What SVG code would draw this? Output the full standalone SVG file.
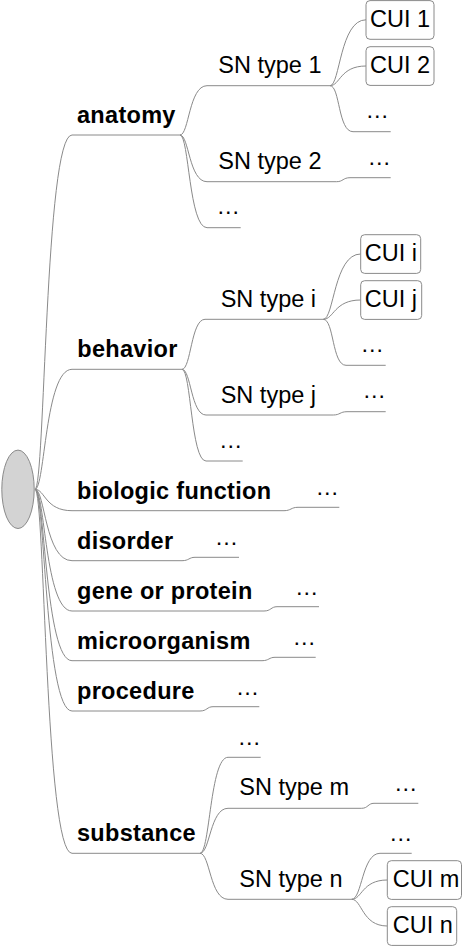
<svg xmlns="http://www.w3.org/2000/svg" width="463" height="946" viewBox="0 0 463 946">
<style>
text{font-family:"Liberation Sans",Arial,sans-serif;font-size:23.5px;fill:#000}
.b{font-weight:bold;letter-spacing:0.3px}
.ul,.c{fill:none;stroke:#8a8a8a;stroke-width:1}
.box{fill:#fff;stroke:#8a8a8a;stroke-width:1}
.root{fill:#d3d3d3;stroke:#8a8a8a;stroke-width:1}
</style>
<rect width="463" height="946" fill="#fff"/>
<g id="connectors" class="c">
<path d="M35,489.3 C45,489.3 45,135 72,135"/>
<path d="M35,489.3 C45,489.3 45,369.3 72,369.3"/>
<path d="M35,489.3 C45,489.3 45,510.7 72,510.7"/>
<path d="M35,489.3 C45,489.3 45,560.7 72,560.7"/>
<path d="M35,489.3 C45,489.3 45,611 72,611"/>
<path d="M35,489.3 C45,489.3 45,660.7 72,660.7"/>
<path d="M35,489.3 C45,489.3 45,711 72,711"/>
<path d="M35,489.3 C45,489.3 45,853.3 72,853.3"/>
<path d="M180,135 C189,135 189,85.7 207,85.7"/>
<path d="M180,135 C189,135 189,181.7 207,181.7"/>
<path d="M180,135 C189,135 189,227.7 207,227.7"/>
<path d="M330,85.7 C340,85.7 340,19.8 366,19.8"/>
<path d="M330,85.7 C340,85.7 340,66 366,66"/>
<path d="M330,85.7 C340,85.7 338,131.7 353,131.7"/>
<path d="M336.7,181.7 C343,181.7 343,177.7 350,177.7"/>
<path d="M182,369.3 C191,369.3 191,319.3 205,319.3"/>
<path d="M182,369.3 C191,369.3 191,415 206,415"/>
<path d="M182,369.3 C191,369.3 191,461 206,461"/>
<path d="M323.3,319.3 C334,319.3 334,254 360.7,254"/>
<path d="M323.3,319.3 C334,319.3 334,300 360.7,300"/>
<path d="M323.3,319.3 C334,319.3 332,365.3 346,365.3"/>
<path d="M333.3,415 C340,415 340,411.7 347,411.7"/>
<path d="M284,510.7 C291,510.7 291,507.3 298,507.3"/>
<path d="M182,560.7 C189,560.7 189,557.3 195,557.3"/>
<path d="M264,611 C271,611 271,606.7 277,606.7"/>
<path d="M262,660.7 C269,660.7 269,657.3 275,657.3"/>
<path d="M200,711 C207,711 207,706.7 213,706.7"/>
<path d="M200,853.3 C210,853.3 210,757.3 228,757.3"/>
<path d="M200,853.3 C210,853.3 210,808.3 228,808.3"/>
<path d="M200,853.3 C210,853.3 210,899.3 228,899.3"/>
<path d="M361.7,808.3 C368,808.3 368,803.3 374,803.3"/>
<path d="M351.7,899.3 C362,899.3 362,853.3 380,853.3"/>
<path d="M351.7,899.3 C362,899.3 362,880 387.3,880"/>
<path d="M351.7,899.3 C362,899.3 362,926 387.3,926"/>
</g>
<g id="root"><ellipse class="root" cx="18" cy="489.3" rx="16.2" ry="39.2"/></g>

<g id="anatomy"><line class="ul" x1="72" y1="135" x2="180" y2="135"/><text class="b" x="77" y="123">anatomy</text></g>
<g id="sn-type-1"><line class="ul" x1="207" y1="85.7" x2="330" y2="85.7"/><text x="218.3" y="72.7">SN type 1</text></g>
<g id="cui-1"><rect class="box" x="366" y="0.6" width="68" height="38.7" rx="4"/><text x="370" y="26.7">CUI 1</text></g>
<g id="cui-2"><rect class="box" x="366" y="46.7" width="68" height="38.7" rx="4"/><text x="370" y="72.7">CUI 2</text></g>
<g id="sn1-more"><line class="ul" x1="353" y1="131.7" x2="390.7" y2="131.7"/><text x="365.5" y="118">…</text></g>
<g id="sn-type-2"><line class="ul" x1="207" y1="181.7" x2="336.7" y2="181.7"/><text x="218.3" y="168.5">SN type 2</text></g>
<g id="sn2-more"><line class="ul" x1="350" y1="177.7" x2="390.7" y2="177.7"/><text x="367.4" y="164.5">…</text></g>
<g id="anatomy-more"><line class="ul" x1="207" y1="227.7" x2="240.7" y2="227.7"/><text x="216.5" y="213.5">…</text></g>

<g id="behavior"><line class="ul" x1="72" y1="369.3" x2="182" y2="369.3"/><text class="b" x="77.3" y="357">behavior</text></g>
<g id="sn-type-i"><line class="ul" x1="205" y1="319.3" x2="323.3" y2="319.3"/><text x="220.7" y="306.7">SN type i</text></g>
<g id="cui-i"><rect class="box" x="360.7" y="234.7" width="60" height="38.7" rx="4"/><text x="364.7" y="260.7">CUI i</text></g>
<g id="cui-j"><rect class="box" x="360.7" y="280.7" width="61" height="38.7" rx="4"/><text x="364.7" y="306.7">CUI j</text></g>
<g id="sni-more"><line class="ul" x1="346" y1="365.3" x2="385.7" y2="365.3"/><text x="360.4" y="352.2">…</text></g>
<g id="sn-type-j"><line class="ul" x1="206" y1="415" x2="333.3" y2="415"/><text x="220.7" y="402.5">SN type j</text></g>
<g id="snj-more"><line class="ul" x1="347" y1="411.7" x2="385.7" y2="411.7"/><text x="362.4" y="398">…</text></g>
<g id="behavior-more"><line class="ul" x1="206" y1="461" x2="242.7" y2="461"/><text x="219" y="448">…</text></g>

<g id="biologic-function"><line class="ul" x1="72" y1="510.7" x2="284" y2="510.7"/><text class="b" x="77" y="498.8">biologic function</text></g>
<g id="biologic-more"><line class="ul" x1="298" y1="507.3" x2="339.3" y2="507.3"/><text x="315.5" y="495.3">…</text></g>
<g id="disorder"><line class="ul" x1="72" y1="560.7" x2="182" y2="560.7"/><text class="b" x="77" y="548.7">disorder</text></g>
<g id="disorder-more"><line class="ul" x1="195" y1="557.3" x2="239" y2="557.3"/><text x="214.7" y="544.5">…</text></g>
<g id="gene-or-protein"><line class="ul" x1="72" y1="611" x2="264" y2="611"/><text class="b" x="77" y="598.8">gene or protein</text></g>
<g id="gene-more"><line class="ul" x1="277" y1="606.7" x2="319" y2="606.7"/><text x="295" y="595.2">…</text></g>
<g id="microorganism"><line class="ul" x1="72" y1="660.7" x2="262" y2="660.7"/><text class="b" x="77" y="648.6">microorganism</text></g>
<g id="micro-more"><line class="ul" x1="275" y1="657.3" x2="315.7" y2="657.3"/><text x="292.4" y="644.5">…</text></g>
<g id="procedure"><line class="ul" x1="72" y1="711" x2="200" y2="711"/><text class="b" x="77" y="698.8">procedure</text></g>
<g id="procedure-more"><line class="ul" x1="213" y1="706.7" x2="259.3" y2="706.7"/><text x="235.7" y="694.5">…</text></g>

<g id="substance"><line class="ul" x1="72" y1="853.3" x2="200" y2="853.3"/><text class="b" x="77" y="840.8">substance</text></g>
<g id="substance-more"><line class="ul" x1="228" y1="757.3" x2="260.7" y2="757.3"/><text x="237.4" y="745.2">…</text></g>
<g id="sn-type-m"><line class="ul" x1="228" y1="808.3" x2="361.7" y2="808.3"/><text x="239.3" y="795.2">SN type m</text></g>
<g id="snm-more"><line class="ul" x1="374" y1="803.3" x2="418.3" y2="803.3"/><text x="394" y="791.2">…</text></g>
<g id="sn-type-n"><line class="ul" x1="228" y1="899.3" x2="351.7" y2="899.3"/><text x="239.3" y="886.7">SN type n</text></g>
<g id="snn-more"><line class="ul" x1="380" y1="853.3" x2="411.7" y2="853.3"/><text x="389" y="840.5">…</text></g>
<g id="cui-m"><rect class="box" x="387.3" y="860.7" width="74.2" height="38.7" rx="4"/><text x="392.7" y="886.7">CUI m</text></g>
<g id="cui-n"><rect class="box" x="387.3" y="906.7" width="69.4" height="38.7" rx="4"/><text x="392.7" y="933">CUI n</text></g>
</svg>
